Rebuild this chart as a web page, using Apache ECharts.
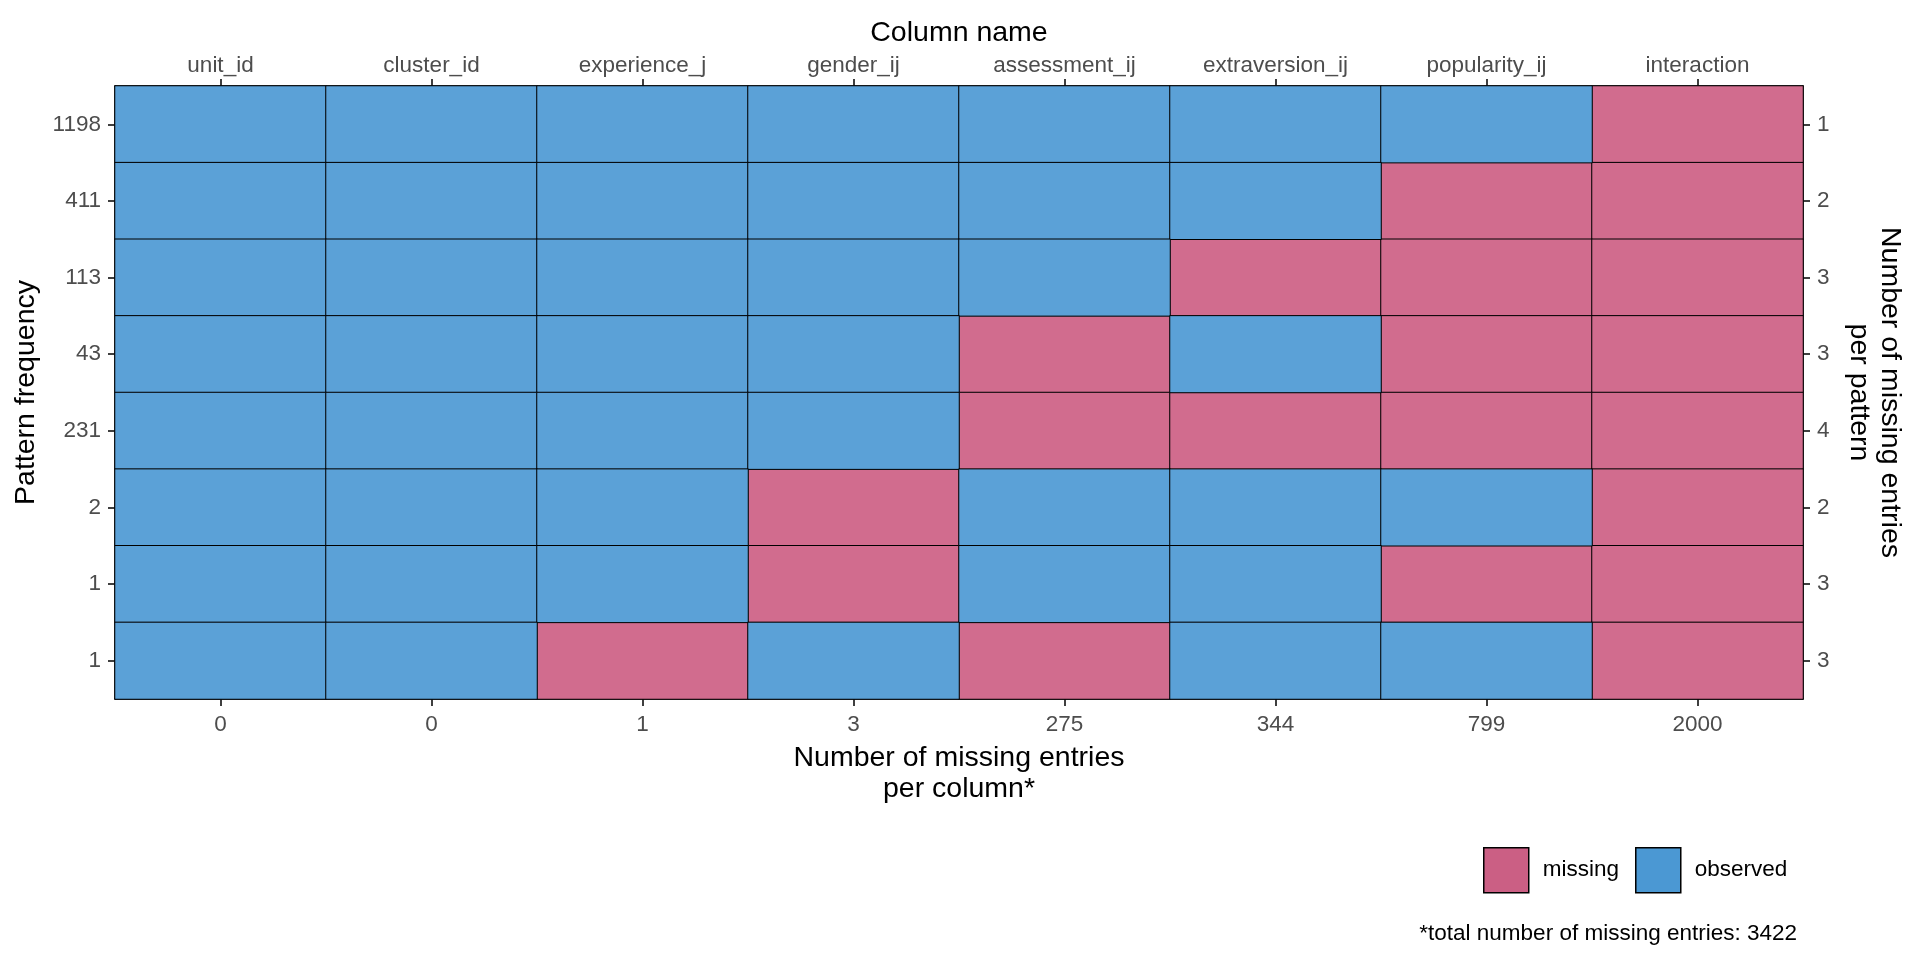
<!DOCTYPE html>
<html>
<head>
<meta charset="utf-8">
<script src="https://cdn.jsdelivr.net/npm/echarts@6/dist/echarts.min.js"></script>
<style>
html,body{margin:0;padding:0;background:#fff;}
#chart{width:1920px;height:960px;}
</style>
</head>
<body>
<div id="chart"></div>
<script>
// ---- data ----
const columnNames = ['unit_id','cluster_id','experience_j','gender_ij','assessment_ij','extraversion_ij','popularity_ij','interaction'];
const missingPerColumn = ['0','0','1','3','275','344','799','2000'];
const patternFreq = ['1198','411','113','43','231','2','1','1'];
const missingPerPattern = ['1','2','3','3','4','2','3','3'];
// 1 = observed, 0 = missing ; rows top to bottom
const patterns = [
  [1,1,1,1,1,1,1,0],
  [1,1,1,1,1,1,0,0],
  [1,1,1,1,1,0,0,0],
  [1,1,1,1,0,1,0,0],
  [1,1,1,1,0,0,0,0],
  [1,1,1,0,1,1,1,0],
  [1,1,1,0,1,1,0,0],
  [1,1,0,1,0,1,1,0]
];
const legendLabels = ['missing','observed'];
const captionText = '*total number of missing entries: 3422';

// ---- styles ----
const FONT = 'Liberation Sans, Arial, sans-serif';
const tileColor = {missing:'#D16C8E', observed:'#5BA1D7'};
const legendColor = {missing:'#CB5F84', observed:'#4B98D3'};
const tickFont = 22.5, titleFont = 28.5;

const missingData = [], observedData = [];
patterns.forEach((row, r) => row.forEach((v, c) => {
  (v === 1 ? observedData : missingData).push([c, r, v]);
}));

const axisLineStyle = {show:true, lineStyle:{color:'#000', width:1.5}};
const tickStyle = {show:true, alignWithLabel:true, length:7, lineStyle:{color:'#000', width:1.5}};
const labelStyle = {color:'#4D4D4D', fontSize:tickFont, fontFamily:FONT, interval:0};
const nameStyle = {color:'#000', fontSize:titleFont, fontFamily:FONT, lineHeight:31};

const chart = echarts.init(document.getElementById('chart'), null, {renderer:'canvas'});
chart.setOption({
  animation:false,
  backgroundColor:'#fff',
  textStyle:{fontFamily:FONT},
  grid:{left:115, top:86, width:1688, height:613, containLabel:false},
  title:{
    text:captionText, right:118, top:917,
    textStyle:{fontSize:tickFont, fontWeight:'normal', color:'#000', fontFamily:FONT}
  },
  legend:{
    left:1483, top:847, padding:0, orient:'horizontal',
    itemWidth:45, itemHeight:45, itemGap:16, icon:'rect',
    textStyle:{fontSize:tickFont, color:'#000', fontFamily:FONT, padding:[0,0,0,9]},
    data:[
      {name:legendLabels[0], itemStyle:{color:legendColor.missing, borderColor:'#000', borderWidth:1.5}},
      {name:legendLabels[1], itemStyle:{color:legendColor.observed, borderColor:'#000', borderWidth:1.5}}
    ],
    selectedMode:false
  },
  xAxis:[
    {type:'category', position:'bottom', data:missingPerColumn,
     axisLine:axisLineStyle, axisTick:tickStyle, axisLabel:Object.assign({margin:14}, labelStyle),
     splitLine:{show:false},
     name:'Number of missing entries\nper column*', nameLocation:'middle', nameGap:44, nameTextStyle:nameStyle},
    {type:'category', position:'top', data:columnNames,
     axisLine:axisLineStyle, axisTick:tickStyle, axisLabel:Object.assign({margin:9}, labelStyle),
     splitLine:{show:false},
     name:'Column name', nameLocation:'middle', nameGap:36, nameTextStyle:nameStyle}
  ],
  yAxis:[
    {type:'category', position:'left', inverse:true, data:patternFreq,
     axisLine:axisLineStyle, axisTick:tickStyle, axisLabel:Object.assign({margin:14}, labelStyle),
     splitLine:{show:false},
     name:'Pattern frequency', nameLocation:'middle', nameGap:72, nameTextStyle:nameStyle},
    {type:'category', position:'right', inverse:true, data:missingPerPattern,
     axisLine:axisLineStyle, axisTick:tickStyle, axisLabel:Object.assign({margin:14}, labelStyle),
     splitLine:{show:false},
     name:'Number of missing entries\nper pattern', nameLocation:'middle', nameGap:40, nameRotate:-90, nameTextStyle:nameStyle}
  ],
  series:[
    {name:legendLabels[0], type:'heatmap', xAxisIndex:0, yAxisIndex:0, data:missingData,
     itemStyle:{color:tileColor.missing, borderColor:'#000', borderWidth:1},
     emphasis:{disabled:true}, label:{show:false}},
    {name:legendLabels[1], type:'heatmap', xAxisIndex:0, yAxisIndex:0, data:observedData,
     itemStyle:{color:tileColor.observed, borderColor:'#000', borderWidth:1},
     emphasis:{disabled:true}, label:{show:false}}
  ]
});
</script>
</body>
</html>
